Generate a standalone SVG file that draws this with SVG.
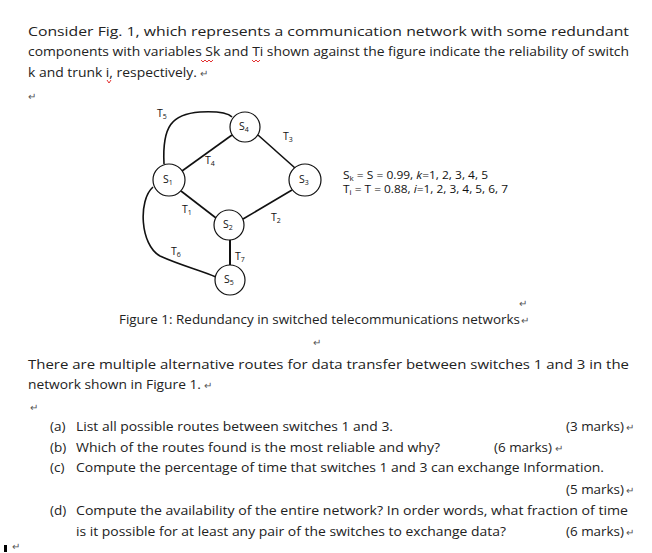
<svg xmlns="http://www.w3.org/2000/svg" width="652" height="553" viewBox="0 0 652 553">
<style>
.t{font-family:"Open Sans","Liberation Sans",sans-serif;font-size:13.5px;fill:#222}
.r{font-family:"Liberation Sans",sans-serif;font-size:10px;fill:#555}
.n{fill:#fff;stroke:#111;stroke-width:1.2}
.l{font-family:"Open Sans","Liberation Sans",sans-serif;font-size:10.5px;fill:#111}
.s{font-size:7px}
.e{fill:none;stroke:#111;stroke-width:1.6}
.w{fill:none;stroke:#d00;stroke-width:0.8}
</style>
<rect width="652" height="553" fill="#fff"/>
<text class="t" x="28" y="36" textLength="601" lengthAdjust="spacingAndGlyphs">Consider Fig. 1, which represents a communication network with some redundant</text>
<text class="t" x="28" y="56" textLength="601" lengthAdjust="spacingAndGlyphs">components with variables Sk and Ti shown against the figure indicate the reliability of switch</text>
<text class="t" x="28" y="77" textLength="169" lengthAdjust="spacingAndGlyphs">k and trunk i, respectively.</text>
<text class="r" x="200" y="77">↵</text>
<text class="r" x="28" y="100">↵</text>
<polyline class="w" points="201,60 203,62 205,60 207,62 209,60 211,62 213,60"/>
<polyline class="w" points="252,60 254,62 256,60 258,62 260,60"/>
<polyline class="w" points="107,80 109,83 111,80"/>
<g id="edges">
<line class="e" x1="182" y1="171" x2="232" y2="135"/>
<line class="e" x1="258" y1="135" x2="295" y2="168"/>
<line class="e" x1="181" y1="191" x2="216" y2="218"/>
<line class="e" x1="243" y1="219" x2="292" y2="190"/>
<line class="e" x1="230" y1="240" x2="230" y2="265" style="stroke-width:2"/>
<path class="e" d="M164,164 C162,126 172,114 200,112 C220,111 228,113 232,117"/>
<path class="e" d="M153,187 C138,200 140,245 160,256 C182,266 200,270 216,277"/>
</g>
<g id="S4"><circle class="n" cx="245" cy="127" r="15"/><text class="l" x="239" y="130">S<tspan class="s" dy="2">4</tspan></text></g>
<g id="S1"><circle class="n" cx="169" cy="180" r="16"/><text class="l" x="163" y="183">S<tspan class="s" dy="2">1</tspan></text></g>
<g id="S3"><circle class="n" cx="305" cy="180" r="16"/><text class="l" x="299" y="183">S<tspan class="s" dy="2">3</tspan></text></g>
<g id="S2"><circle class="n" cx="229" cy="225" r="15"/><text class="l" x="223" y="228">S<tspan class="s" dy="2">2</tspan></text></g>
<g id="S5"><circle class="n" cx="230" cy="280" r="15"/><text class="l" x="224" y="283">S<tspan class="s" dy="2">5</tspan></text></g>
<g id="labels">
<text class="l" x="157" y="117">T<tspan class="s" dy="2">5</tspan></text>
<text class="l" x="283" y="140">T<tspan class="s" dy="2">3</tspan></text>
<text class="l" x="205" y="164">T<tspan class="s" dy="2">4</tspan></text>
<text class="l" x="182" y="213">T<tspan class="s" dy="2">1</tspan></text>
<text class="l" x="271" y="221">T<tspan class="s" dy="2">2</tspan></text>
<text class="l" x="171" y="255">T<tspan class="s" dy="2">6</tspan></text>
<text class="l" x="235" y="260">T<tspan class="s" dy="2">7</tspan></text>
<text class="l" x="343" y="179" textLength="145" lengthAdjust="spacingAndGlyphs">S<tspan class="s" dy="2">k</tspan><tspan dy="-2"> = S = 0.99, </tspan><tspan font-style="italic">k</tspan>=1, 2, 3, 4, 5</text>
<text class="l" x="343" y="193" textLength="165" lengthAdjust="spacingAndGlyphs">T<tspan class="s" dy="2">i</tspan><tspan dy="-2"> = T = 0.88, </tspan><tspan font-style="italic">i</tspan>=1, 2, 3, 4, 5, 6, 7</text>
</g>
<text class="r" x="519" y="307">↵</text>
<text class="t" x="119" y="324" textLength="401" lengthAdjust="spacingAndGlyphs">Figure 1: Redundancy in switched telecommunications networks</text>
<text class="r" x="521" y="324">↵</text>
<text class="r" x="313" y="346">↵</text>
<text class="t" x="28" y="369" textLength="601" lengthAdjust="spacingAndGlyphs">There are multiple alternative routes for data transfer between switches 1 and 3 in the</text>
<text class="t" x="28" y="389" textLength="173" lengthAdjust="spacingAndGlyphs">network shown in Figure 1.</text>
<text class="r" x="204" y="389">↵</text>
<text class="r" x="30" y="411">↵</text>
<text class="t" x="50" y="431">(a)</text>
<text class="t" x="76" y="431" textLength="317" lengthAdjust="spacingAndGlyphs">List all possible routes between switches 1 and 3.</text>
<text class="t" x="566" y="431" textLength="58" lengthAdjust="spacingAndGlyphs">(3 marks)</text><text class="r" x="626" y="431">↵</text>
<text class="t" x="50" y="452">(b)</text>
<text class="t" x="76" y="452" textLength="364" lengthAdjust="spacingAndGlyphs">Which of the routes found is the most reliable and why?</text>
<text class="t" x="494" y="452" textLength="58" lengthAdjust="spacingAndGlyphs">(6 marks)</text><text class="r" x="555" y="452">↵</text>
<text class="t" x="50" y="472">(c)</text>
<text class="t" x="76" y="472" textLength="528" lengthAdjust="spacingAndGlyphs">Compute the percentage of time that switches 1 and 3 can exchange Information.</text>
<text class="t" x="566" y="494" textLength="58" lengthAdjust="spacingAndGlyphs">(5 marks)</text><text class="r" x="626" y="494">↵</text>
<text class="t" x="50" y="515">(d)</text>
<text class="t" x="76" y="515" textLength="552" lengthAdjust="spacingAndGlyphs">Compute the availability of the entire network? In order words, what fraction of time</text>
<text class="t" x="76" y="536" textLength="430" lengthAdjust="spacingAndGlyphs">is it possible for at least any pair of the switches to exchange data?</text>
<text class="t" x="566" y="536" textLength="58" lengthAdjust="spacingAndGlyphs">(6 marks)</text><text class="r" x="626" y="536">↵</text>
<rect x="4" y="545" width="3" height="7" fill="#000"/>
<text class="r" x="12" y="550">↵</text>
</svg>
